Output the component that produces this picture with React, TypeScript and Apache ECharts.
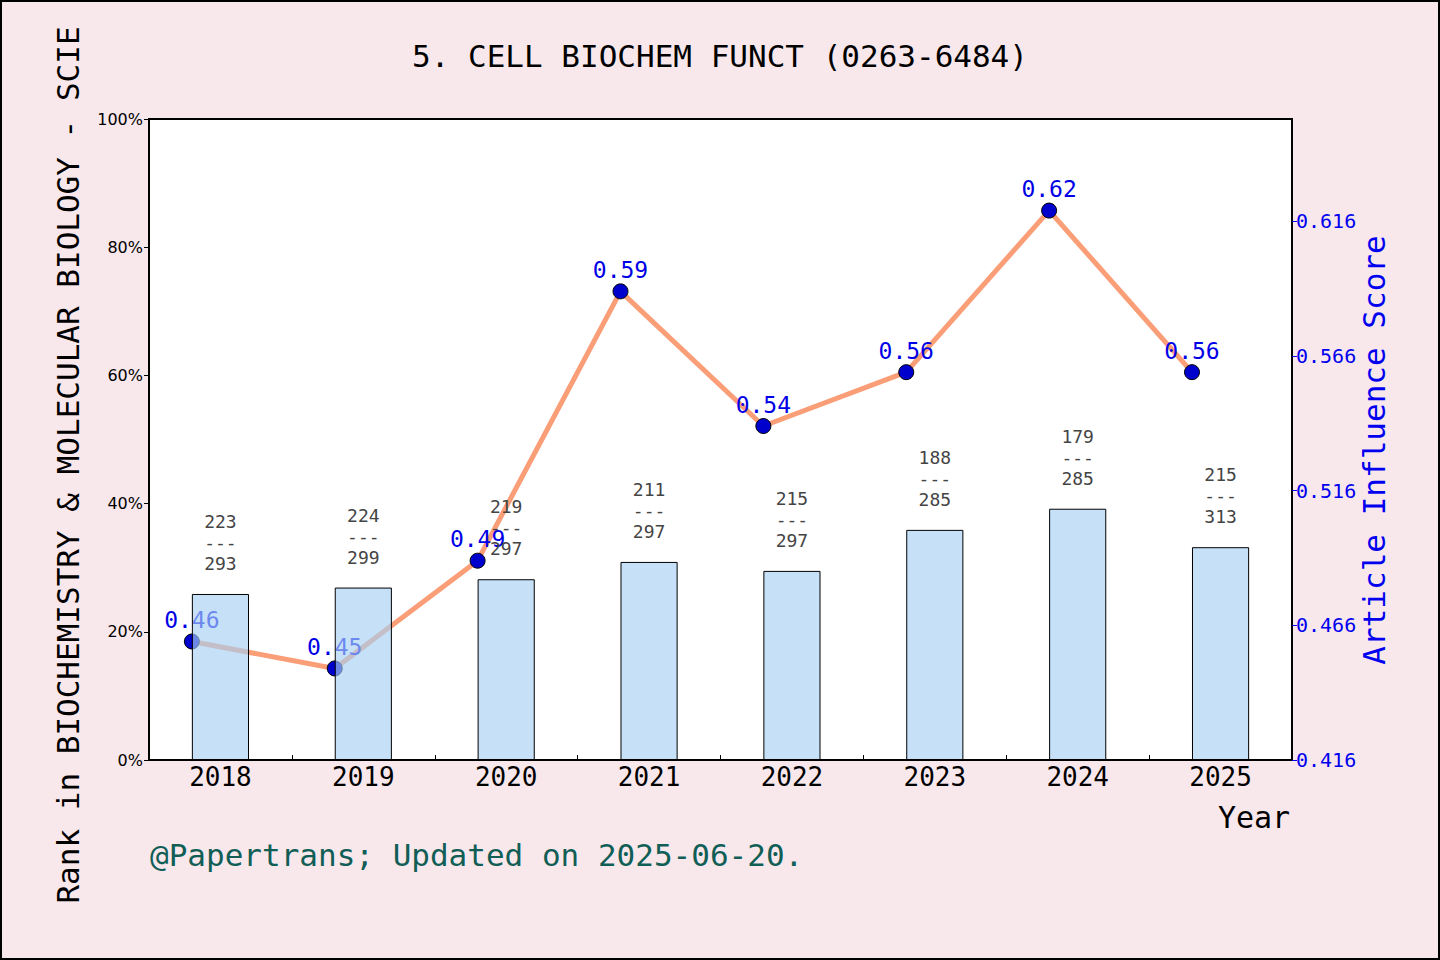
import React, { useEffect, useRef } from 'react';
import * as echarts from 'echarts';

const years = ['2018', '2019', '2020', '2021', '2022', '2023', '2024', '2025'];
const rankPercent = [25.9, 26.9, 28.2, 30.9, 29.5, 35.9, 39.2, 33.2];
const ranks = [223, 224, 219, 211, 215, 188, 179, 215];
const totals = [293, 299, 297, 297, 297, 285, 285, 313];
const ais = [0.46, 0.45, 0.49, 0.59, 0.54, 0.56, 0.62, 0.56];
const aisTicks = [0.416, 0.466, 0.516, 0.566, 0.616];
const leftTicks = [0, 20, 40, 60, 80, 100];

const MONO = '"DejaVu Sans Mono", "Liberation Mono", monospace';
const SANS = '"DejaVu Sans", sans-serif';
const LINE_OFFSET = -0.2;

function buildOption(): any {
  return {
    animation: false,
    backgroundColor: '#f8e8ec',
    grid: {
      left: 149,
      right: 148,
      top: 119,
      bottom: 200,
      show: true,
      backgroundColor: '#ffffff',
      borderColor: '#000000',
      borderWidth: 2,
    },
    xAxis: [
      {
        type: 'category',
        data: years,
        axisLine: { onZero: false, lineStyle: { color: '#000', width: 2 } },
        axisTick: { show: true, inside: true, length: 5, lineStyle: { color: '#000' } },
        axisLabel: { fontFamily: MONO, fontSize: 26, color: '#000', margin: 4 },
        splitLine: { show: false },
      },
      {
        type: 'value',
        min: -0.5,
        max: years.length - 0.5,
        show: false,
        axisLine: { onZero: false },
        splitLine: { show: false },
      },
    ],
    yAxis: [
      {
        type: 'value',
        min: leftTicks[0],
        max: leftTicks[leftTicks.length - 1],
        interval: 20,
        position: 'left',
        axisLine: { show: true, onZero: false, lineStyle: { color: '#000', width: 2 } },
        axisTick: { show: true, length: 5, lineStyle: { color: '#000' } },
        axisLabel: { formatter: '{value}%', fontFamily: SANS, fontSize: 16, color: '#000', margin: 6 },
        splitLine: { show: false },
      },
      {
        type: 'value',
        min: aisTicks[0],
        max: 0.654,
        position: 'right',
        axisLine: { show: true, onZero: false, lineStyle: { color: '#000', width: 2 } },
        axisTick: { show: true, length: 5, customValues: aisTicks, lineStyle: { color: '#0000ee' } },
        axisLabel: {
          customValues: aisTicks,
          formatter: (v: number) => v.toFixed(3),
          fontFamily: MONO,
          fontSize: 20,
          color: '#0000ee',
          margin: 4,
        },
        splitLine: { show: false },
      },
    ],
    graphic: [
      {
        type: 'rect',
        shape: { x: 1, y: 1, width: 1438, height: 958 },
        style: { fill: 'none', stroke: '#000', lineWidth: 2 },
        silent: true,
      },
      {
        type: 'text',
        x: 720,
        y: 56,
        style: {
          text: '5. CELL BIOCHEM FUNCT (0263-6484)',
          font: `31px ${MONO}`,
          fill: '#000',
          align: 'center',
          verticalAlign: 'middle',
        },
      },
      {
        type: 'text',
        x: 68,
        y: 465,
        rotation: Math.PI / 2,
        style: {
          text: 'Rank in BIOCHEMISTRY & MOLECULAR BIOLOGY - SCIE',
          font: `31px ${MONO}`,
          fill: '#000',
          align: 'center',
          verticalAlign: 'middle',
        },
      },
      {
        type: 'text',
        x: 1374,
        y: 450,
        rotation: Math.PI / 2,
        style: {
          text: 'Article Influence Score',
          font: `31px ${MONO}`,
          fill: '#0000ee',
          align: 'center',
          verticalAlign: 'middle',
        },
      },
      {
        type: 'text',
        x: 1254,
        y: 817,
        style: {
          text: 'Year',
          font: `30px ${MONO}`,
          fill: '#000',
          align: 'center',
          verticalAlign: 'middle',
        },
      },
      {
        type: 'text',
        x: 150,
        y: 855,
        style: {
          text: '@Papertrans; Updated on 2025-06-20.',
          font: `31px ${MONO}`,
          fill: '#105e56',
          align: 'left',
          verticalAlign: 'middle',
        },
      },
    ],
    series: [
      {
        type: 'line',
        name: 'AIS',
        xAxisIndex: 1,
        yAxisIndex: 1,
        z: 2,
        data: ais.map((v, i) => [i + LINE_OFFSET, v]),
        lineStyle: { color: '#fa9e78', width: 5 },
        symbol: 'circle',
        symbolSize: 15,
        itemStyle: { color: '#0000cc', borderColor: '#000', borderWidth: 1 },
        label: {
          show: true,
          position: 'top',
          distance: 2,
          formatter: (p: any) => p.value[1].toFixed(2),
          fontFamily: MONO,
          fontSize: 23,
          color: '#0000e6',
        },
      },
      {
        type: 'bar',
        name: 'Rank',
        xAxisIndex: 0,
        yAxisIndex: 0,
        z: 3,
        barWidth: '40%',
        data: rankPercent,
        itemStyle: { color: 'rgba(166,207,243,0.65)', borderColor: '#000', borderWidth: 1 },
        label: {
          show: true,
          position: 'top',
          distance: 20,
          formatter: (p: any) => `${ranks[p.dataIndex]}\n---\n${totals[p.dataIndex]}`,
          fontFamily: MONO,
          fontSize: 18,
          lineHeight: 21,
          color: '#444',
        },
      },
    ],
  };
}

export default function App() {
  const ref = useRef<HTMLDivElement>(null);
  useEffect(() => {
    document.body.style.margin = '0';
    const chart = echarts.init(ref.current!, null, { renderer: 'svg' });
    chart.setOption(buildOption());
    return () => chart.dispose();
  }, []);
  return <div ref={ref} style={{ width: 1440, height: 960 }} />;
}
